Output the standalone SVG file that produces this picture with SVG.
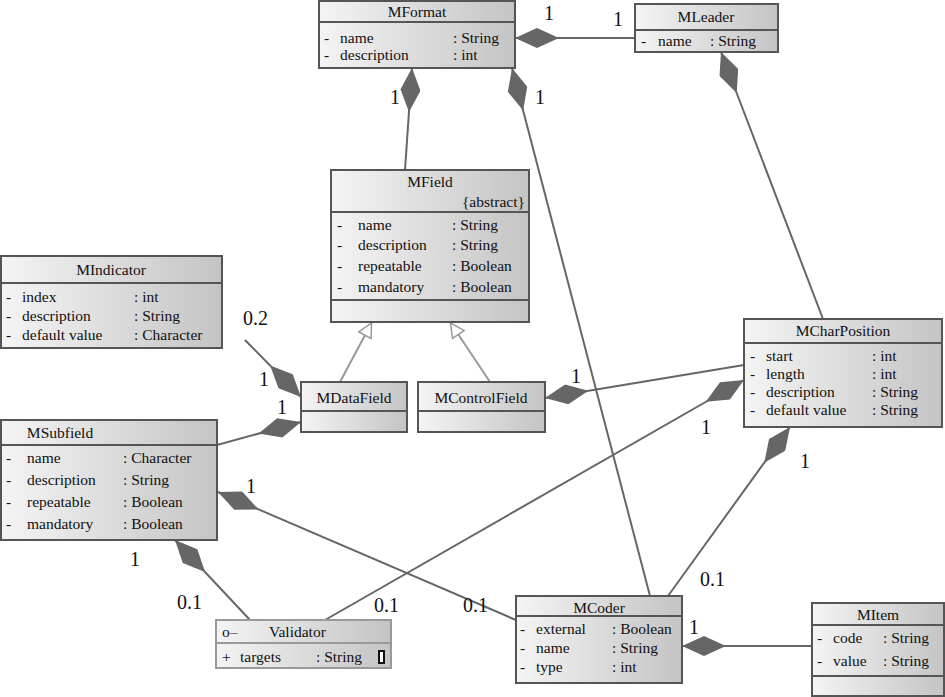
<svg xmlns="http://www.w3.org/2000/svg" width="945" height="697" viewBox="0 0 945 697" font-family="Liberation Serif, DejaVu Serif, serif">
<defs>
<linearGradient id="g" x1="0" y1="0" x2="1" y2="0"><stop offset="0" stop-color="#f4f4f4"/><stop offset="1" stop-color="#c4c4c4"/></linearGradient>
<marker id="dia" viewBox="0 0 44 20" refX="0" refY="10" markerWidth="44" markerHeight="20" markerUnits="userSpaceOnUse" orient="auto"><path d="M0,10 L22,0 L44,10 L22,20 Z" fill="#666"/></marker>
<marker id="tri" viewBox="0 0 16 16" refX="0" refY="8" markerWidth="16" markerHeight="16" markerUnits="userSpaceOnUse" orient="auto"><path d="M1,8 L15,1 L15,15 Z" fill="#fff" stroke="#999" stroke-width="1.5"/></marker>
<style>
text{font-family:"Liberation Serif","DejaVu Serif","Times New Roman",serif;font-size:15.5px;fill:#111}
.c{text-anchor:middle}
.b{fill:url(#g);stroke:#555;stroke-width:2}
.s{stroke:#555;stroke-width:2}
.l{fill:none;stroke:#666;stroke-width:2}
.i{fill:none;stroke:#999;stroke-width:2}
.lb{font-size:20px}
</style>
</defs>
<g id="connectors">
<path class="l" d="M515,38 H635" marker-start="url(#dia)"/>
<path class="l" d="M412,68 L405,170" marker-start="url(#dia)"/>
<path class="l" d="M512,68 L650,596" marker-start="url(#dia)"/>
<path class="l" d="M721,52 L823,319" marker-start="url(#dia)"/>
<path class="l" d="M301,397 L245,340" marker-start="url(#dia)"/>
<path class="l" d="M301,422 L217,445" marker-start="url(#dia)"/>
<path class="i" d="M372,322 L340,382" marker-start="url(#tri)"/>
<path class="i" d="M450,322 L490,382" marker-start="url(#tri)"/>
<path class="l" d="M545,398 L744,365" marker-start="url(#dia)"/>
<path class="l" d="M744,380 L325,620" marker-start="url(#dia)"/>
<path class="l" d="M790,427 L668,596" marker-start="url(#dia)"/>
<path class="l" d="M218,492 L516,620" marker-start="url(#dia)"/>
<path class="l" d="M175,540 L250,620" marker-start="url(#dia)"/>
<path class="l" d="M682,646 H812" marker-start="url(#dia)"/>
<text class="lb" x="544" y="20">1</text>
<text class="lb" x="613" y="26">1</text>
<text class="lb" x="390" y="104">1</text>
<text class="lb" x="535" y="104">1</text>
<text class="lb" x="243" y="325">0.2</text>
<text class="lb" x="259" y="386">1</text>
<text class="lb" x="277" y="414">1</text>
<text class="lb" x="571" y="383">1</text>
<text class="lb" x="701" y="434">1</text>
<text class="lb" x="800" y="468">1</text>
<text class="lb" x="700" y="586">0.1</text>
<text class="lb" x="246" y="493">1</text>
<text class="lb" x="463" y="612">0.1</text>
<text class="lb" x="130" y="566">1</text>
<text class="lb" x="177" y="609">0.1</text>
<text class="lb" x="374" y="612">0.1</text>
<text class="lb" x="689" y="634">1</text>
</g>
<g id="MFormat">
<rect class="b" x="319" y="1" width="196" height="67"/><path class="s" d="M319,22 H515"/>
<text class="c" x="417" y="17">MFormat</text>
<text x="324" y="43">-</text><text x="340" y="43">name</text><text x="453" y="43">: String</text>
<text x="324" y="60">-</text><text x="340" y="60">description</text><text x="453" y="60">: int</text>
</g>
<g id="MLeader">
<rect class="b" x="635" y="4" width="143" height="48"/><path class="s" d="M635,30 H778"/>
<text class="c" x="706" y="22">MLeader</text>
<text x="641" y="46">-</text><text x="658" y="46">name</text><text x="710" y="46">: String</text>
</g>
<g id="MField">
<rect class="b" x="331" y="170" width="198" height="152"/><path class="s" d="M331,212 H529 M331,300 H529"/>
<text class="c" x="430" y="187">MField</text>
<text x="525" y="207" text-anchor="end">{abstract}</text>
<text x="337" y="230">-</text><text x="358" y="230">name</text><text x="452" y="230">: String</text>
<text x="337" y="250">-</text><text x="358" y="250">description</text><text x="452" y="250">: String</text>
<text x="337" y="271">-</text><text x="358" y="271">repeatable</text><text x="452" y="271">: Boolean</text>
<text x="337" y="292">-</text><text x="358" y="292">mandatory</text><text x="452" y="292">: Boolean</text>
</g>
<g id="MIndicator">
<rect class="b" x="1" y="256" width="221" height="92"/><path class="s" d="M1,283 H222"/>
<text class="c" x="111" y="275">MIndicator</text>
<text x="6" y="302">-</text><text x="22" y="302">index</text><text x="134" y="302">: int</text>
<text x="6" y="321">-</text><text x="22" y="321">description</text><text x="134" y="321">: String</text>
<text x="6" y="340">-</text><text x="22" y="340">default value</text><text x="134" y="340">: Character</text>
</g>
<g id="MDataField">
<rect class="b" x="301" y="382" width="106" height="50"/><path class="s" d="M301,411 H407"/>
<text class="c" x="354" y="403">MDataField</text>
</g>
<g id="MControlField">
<rect class="b" x="418" y="382" width="127" height="50"/><path class="s" d="M418,411 H545"/>
<text class="c" x="481" y="403">MControlField</text>
</g>
<g id="MCharPosition">
<rect class="b" x="744" y="319" width="198" height="108"/><path class="s" d="M744,343 H942"/>
<text class="c" x="843" y="336">MCharPosition</text>
<text x="750" y="361">-</text><text x="766" y="361">start</text><text x="872" y="361">: int</text>
<text x="750" y="379">-</text><text x="766" y="379">length</text><text x="872" y="379">: int</text>
<text x="750" y="397">-</text><text x="766" y="397">description</text><text x="872" y="397">: String</text>
<text x="750" y="415">-</text><text x="766" y="415">default value</text><text x="872" y="415">: String</text>
</g>
<g id="MSubfield">
<rect class="b" x="1" y="420" width="216" height="120"/><path class="s" d="M1,445 H217"/>
<text class="c" x="60" y="438">MSubfield</text>
<text x="6" y="463">-</text><text x="27" y="463">name</text><text x="123" y="463">: Character</text>
<text x="6" y="485">-</text><text x="27" y="485">description</text><text x="123" y="485">: String</text>
<text x="6" y="507">-</text><text x="27" y="507">repeatable</text><text x="123" y="507">: Boolean</text>
<text x="6" y="529">-</text><text x="27" y="529">mandatory</text><text x="123" y="529">: Boolean</text>
</g>
<g id="Validator">
<rect x="216" y="620" width="175" height="48" fill="url(#g)" stroke="#999" stroke-width="2"/><path d="M216,643 H391" stroke="#999" stroke-width="2"/>
<text x="222" y="637">o–</text><text x="269" y="637">Validator</text>
<text x="222" y="662">+</text><text x="240" y="662">targets</text><text x="316" y="662">: String</text>
<rect x="379" y="651" width="5" height="12" fill="#fff" stroke="#111" stroke-width="2"/>
</g>
<g id="MCoder">
<rect class="b" x="516" y="596" width="166" height="87"/><path class="s" d="M516,616 H682"/>
<text class="c" x="599" y="613">MCoder</text>
<text x="520" y="634">-</text><text x="536" y="634">external</text><text x="612" y="634">: Boolean</text>
<text x="520" y="653">-</text><text x="536" y="653">name</text><text x="612" y="653">: String</text>
<text x="520" y="672">-</text><text x="536" y="672">type</text><text x="612" y="672">: int</text>
</g>
<g id="MItem">
<rect class="b" x="812" y="603" width="132" height="93"/><path class="s" d="M812,625 H944 M812,676 H944"/>
<text class="c" x="878" y="620">MItem</text>
<text x="817" y="643">-</text><text x="833" y="643">code</text><text x="883" y="643">: String</text>
<text x="817" y="666">-</text><text x="833" y="666">value</text><text x="883" y="666">: String</text>
</g>
</svg>
